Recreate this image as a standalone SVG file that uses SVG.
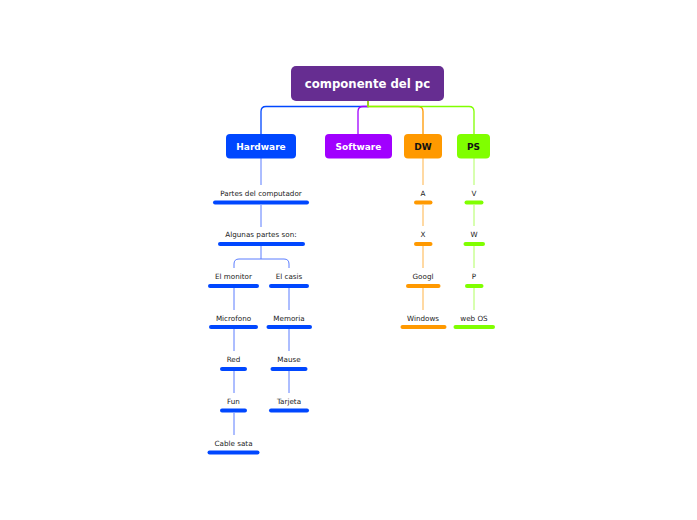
<svg xmlns="http://www.w3.org/2000/svg" width="697" height="520" viewBox="0 0 697 520">
<style>
.bg{fill:#ffffff}
.t{font-family:"DejaVu Sans",Verdana,sans-serif;font-size:7.2px;fill:#222222;text-anchor:middle}
.mt{font-family:"DejaVu Sans",Verdana,sans-serif;font-size:9px;font-weight:bold;text-anchor:middle}
.rt{font-family:"DejaVu Sans",Verdana,sans-serif;font-size:11.7px;font-weight:bold;fill:#ffffff;text-anchor:middle}
.c{fill:none;stroke-width:1.3}
.s{fill:none;stroke-width:1}
.bar{stroke-width:4;stroke-linecap:round}
.hw{stroke:#0047ff}.hwl{stroke:#5a7dff}
.sw{stroke:#a100ff}
.dw{stroke:#ff9900}.dwl{stroke:#ffb347}
.ps{stroke:#80ff00}.psl{stroke:#b0ff60}
</style>
<rect class="bg" x="0" y="0" width="697" height="520"/>
<g id="connectors">
<path class="c hw" d="M368,101 V106.5 H266 Q261,106.5 261,111.5 V134"/>
<path class="c sw" d="M368,101 V106.5 H363 Q358,106.5 358,111.5 V134"/>
<path class="c dw" d="M368,101 V106.5 H418 Q423,106.5 423,111.5 V134"/>
<path class="c ps" d="M368,101 V106.5 H469 Q474,106.5 474,111.5 V134"/>
<path class="s hwl" d="M261,158 V185"/>
<path class="s hwl" d="M261,205 V227"/>
<path class="s hwl" d="M261,246 V259 H239 Q234,259 234,264 V268"/>
<path class="s hwl" d="M261,259 H284 Q289,259 289,264 V268"/>
<path class="s hwl" d="M234,288 V310"/>
<path class="s hwl" d="M234,329 V351"/>
<path class="s hwl" d="M234,371 V393"/>
<path class="s hwl" d="M234,413 V435"/>
<path class="s hwl" d="M289,288 V310"/>
<path class="s hwl" d="M289,329 V351"/>
<path class="s hwl" d="M289,371 V393"/>
<path class="s dwl" d="M423,158 V185"/>
<path class="s dwl" d="M423,205 V226"/>
<path class="s dwl" d="M423,246 V268"/>
<path class="s dwl" d="M423,288 V310"/>
<path class="s psl" d="M474,158 V185"/>
<path class="s psl" d="M474,205 V226"/>
<path class="s psl" d="M474,246 V268"/>
<path class="s psl" d="M474,288 V310"/>
</g>
<g id="root">
<rect x="291" y="66" width="153" height="35" rx="5" fill="#662d91"/>
<text class="rt" x="367.5" y="87.8">componente del pc</text>
</g>
<g id="hardware">
<rect x="226" y="134" width="70" height="24.5" rx="4" fill="#0047ff"/>
<text class="mt" x="261" y="149.5" fill="#ffffff">Hardware</text>
</g>
<g id="software">
<rect x="325" y="134" width="67" height="24.5" rx="4" fill="#a100ff"/>
<text class="mt" x="358.5" y="149.5" fill="#ffffff">Software</text>
</g>
<g id="dw">
<rect x="404" y="134" width="38" height="24.5" rx="4" fill="#ff9900"/>
<text class="mt" x="423" y="149.5" fill="#111111">DW</text>
</g>
<g id="ps">
<rect x="457" y="134" width="33" height="24.5" rx="4" fill="#80ff00"/>
<text class="mt" x="473.5" y="149.5" fill="#111111">PS</text>
</g>
<g id="partes"><text class="t" x="261" y="196">Partes del computador</text><line class="bar hw" x1="215" y1="202.5" x2="307" y2="202.5"/></g>
<g id="algunas"><text class="t" x="261" y="237">Algunas partes son:</text><line class="bar hw" x1="220" y1="244" x2="303" y2="244"/></g>
<g id="monitor"><text class="t" x="233.5" y="279">El monitor</text><line class="bar hw" x1="210" y1="286" x2="257" y2="286"/></g>
<g id="casis"><text class="t" x="289" y="279">El casis</text><line class="bar hw" x1="271" y1="286" x2="307" y2="286"/></g>
<g id="microfono"><text class="t" x="233.5" y="321">Microfono</text><line class="bar hw" x1="211" y1="327" x2="256" y2="327"/></g>
<g id="memoria"><text class="t" x="289" y="321">Memoria</text><line class="bar hw" x1="268.5" y1="327" x2="310" y2="327"/></g>
<g id="red"><text class="t" x="233.5" y="362">Red</text><line class="bar hw" x1="222" y1="369" x2="245" y2="369"/></g>
<g id="mause"><text class="t" x="289" y="362">Mause</text><line class="bar hw" x1="272.5" y1="369" x2="305.5" y2="369"/></g>
<g id="fun"><text class="t" x="233.5" y="404">Fun</text><line class="bar hw" x1="222" y1="410.5" x2="245" y2="410.5"/></g>
<g id="tarjeta"><text class="t" x="289" y="404">Tarjeta</text><line class="bar hw" x1="271" y1="410.5" x2="307" y2="410.5"/></g>
<g id="cablesata"><text class="t" x="233.5" y="446">Cable sata</text><line class="bar hw" x1="209.5" y1="452.5" x2="257.5" y2="452.5"/></g>
<g id="a"><text class="t" x="423" y="196">A</text><line class="bar dw" x1="416" y1="202.5" x2="430.5" y2="202.5"/></g>
<g id="x"><text class="t" x="423" y="237">X</text><line class="bar dw" x1="416" y1="244" x2="430.5" y2="244"/></g>
<g id="googl"><text class="t" x="423" y="279">Googl</text><line class="bar dw" x1="408" y1="286" x2="438.5" y2="286"/></g>
<g id="windows"><text class="t" x="423" y="321">Windows</text><line class="bar dw" x1="402.5" y1="327" x2="444.5" y2="327"/></g>
<g id="v"><text class="t" x="474" y="196">V</text><line class="bar ps" x1="466.5" y1="202.5" x2="481.5" y2="202.5"/></g>
<g id="w"><text class="t" x="474" y="237">W</text><line class="bar ps" x1="465.5" y1="244" x2="483" y2="244"/></g>
<g id="p"><text class="t" x="474" y="279">P</text><line class="bar ps" x1="467" y1="286" x2="481.5" y2="286"/></g>
<g id="webos"><text class="t" x="474" y="321">web OS</text><line class="bar ps" x1="455.5" y1="327" x2="493" y2="327"/></g>
</svg>
